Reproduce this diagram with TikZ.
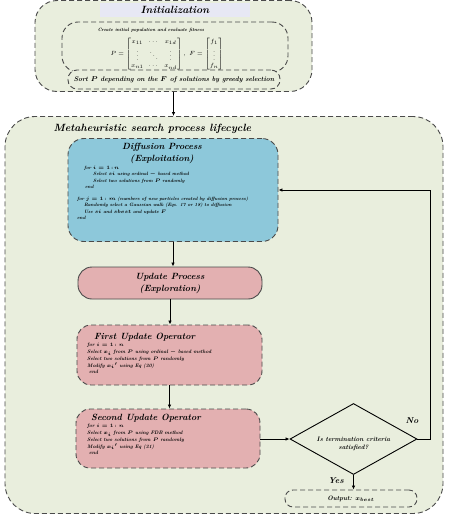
\documentclass[tikz,border=0pt]{standalone}
\usepackage{amsmath}
\usetikzlibrary{shapes.geometric,arrows.meta}

\definecolor{panelgreen}{HTML}{E9EEDD}
\definecolor{diffblue}{HTML}{8DC8DA}
\definecolor{updpink}{HTML}{E3B0B1}
\definecolor{titleband}{HTML}{E7E8F4}
\definecolor{edgegray}{HTML}{4A4A4A}

\newcommand{\bigbi}{\fontsize{10.5}{12}\selectfont\bfseries\itshape\boldmath}
\newcommand{\midbi}{\fontsize{9}{12}\selectfont\bfseries\itshape\boldmath}
\newcommand{\sortbi}{\fontsize{6.7}{7}\selectfont\bfseries\itshape\boldmath}
\newcommand{\smallbi}{\fontsize{4.7}{6}\selectfont\bfseries\itshape\boldmath}
\newcommand{\tinybi}{\fontsize{4.7}{6.2}\selectfont\bfseries\itshape\boldmath}
\newcommand{\codebi}{\fontsize{5}{6.8}\selectfont\bfseries\itshape\boldmath}
\newcommand{\askbi}{\fontsize{6.4}{8}\selectfont\bfseries\itshape\boldmath}
\newcommand{\labbi}{\fontsize{8.5}{10}\selectfont\bfseries\itshape\boldmath}
\newcommand{\matbi}{\fontsize{6.5}{7.6}\selectfont\setlength{\arraycolsep}{2.5pt}}

\tikzset{
  dashbox/.style={draw=edgegray, line width=0.9pt, dash pattern=on 5pt off 3pt},
  flow/.style={-{Latex[length=4pt,width=3.5pt]}, line width=0.9pt},
}

\begin{document}
\begin{tikzpicture}[x=1pt,y=-1pt]
\useasboundingbox (0,0) rectangle (474,515);

% Initialization panel
\node[dashbox, fill=panelgreen, rounded corners=22pt, minimum width=277pt, minimum height=91pt] (Init) at (173.5,46) {};
\node[fill=titleband, minimum width=150pt, minimum height=14pt, inner sep=0pt, font=\bigbi] (InitTitle) at (175,10) {Initialization};

% Create population box
\node[dashbox, rounded corners=16pt, minimum width=226pt, minimum height=50pt] (Create) at (175,47) {};
\node[font=\smallbi, inner sep=1pt] (CreateText) at (151,30) {Create initial population and evaluate fitness};
\node[font=\matbi, inner sep=0pt] (Matrix) at (167,54)
  {$P=\begin{bmatrix} x_{11} & \cdots & x_{1d}\\ \vdots & \ddots & \vdots\\ x_{n1} & \cdots & x_{nd}\end{bmatrix},\ F=\begin{bmatrix} f_1\\ \vdots\\ f_n\end{bmatrix}$};

% Sort box
\node[dashbox, fill=panelgreen, rounded corners=9pt, minimum width=212pt, minimum height=19pt, font=\sortbi] (Sort) at (174,79.5)
  {Sort $P$ depending on the $F$ of solutions by greedy selection};

% Lifecycle panel
\node[dashbox, fill=panelgreen, rounded corners=30pt, minimum width=438pt, minimum height=397pt] (Life) at (224,315) {};
\node[font=\bigbi, anchor=west] (LifeTitle) at (50,129) {Metaheuristic search process lifecycle};

% Diffusion process
\node[dashbox, fill=diffblue, rounded corners=16pt, minimum width=210pt, minimum height=103pt] (Diff) at (173,190) {};
\node[font=\midbi, align=center, inner sep=1pt] (DiffTitle) at (162,153) {Diffusion Process\\(Exploitation)};
\node[font=\tinybi, align=left, anchor=north west, inner sep=0pt] (DiffA) at (84,166)
  {for $i=1\!:\!n$\\
   \hspace{9pt}Select $si$ using ordinal $-$ based method\\
   \hspace{9pt}Select two solutions from $P$ randomly\\
   \hspace{1pt}end};
\node[font=\tinybi, align=left, anchor=north west, inner sep=0pt] (DiffB) at (77,197)
  {for $j=1\!:m$ (numbers of new particles created by diffusion process)\\
   \hspace{7pt}Randomly select a Gaussian walk (Eqs. 17 or 18) to diffusion\\
   \hspace{7pt}Use $si$ and $sbest$ and update $F$\\
   end};

% Update process
\node[draw=edgegray, line width=0.9pt, fill=updpink, rounded corners=14pt, minimum width=184pt, minimum height=32pt, font=\midbi, align=center] (Upd) at (170,283)
  {Update Process\\(Exploration)};

% First update operator
\node[dashbox, fill=updpink, rounded corners=14pt, minimum width=185pt, minimum height=60pt] (First) at (169.5,355) {};
\node[font=\midbi, anchor=west, inner sep=1pt] (FirstTitle) at (93,337) {First Update Operator};
\node[font=\codebi, align=left, anchor=north west, inner sep=0pt] (FirstCode) at (87,343)
  {for $i=1\!:n$\\
   Select $x_i$ from $P$ using ordinal $-$ based method\\
   Select two solutions from $P$ randomly\\
   Modify $x_i{}'$ using Eq (20)\\
   \hspace{2pt}end};

% Second update operator
\node[dashbox, fill=updpink, rounded corners=14pt, minimum width=184pt, minimum height=59pt] (Second) at (168,438.5) {};
\node[font=\midbi, anchor=west, inner sep=1pt] (SecondTitle) at (90,418) {Second Update Operator};
\node[font=\codebi, align=left, anchor=north west, inner sep=0pt] (SecondCode) at (87,424)
  {for $i=1\!:n$\\
   Select $x_i$ from $P$ using FDB method\\
   Select two solutions from $P$ randomly\\
   Modify $x_i{}'$ using Eq (21)\\
   \hspace{2pt}end};

% Termination check
\node[draw, diamond, line width=0.9pt, aspect=1.8, minimum width=127pt, minimum height=71pt, inner sep=0pt] (Check) at (353.5,439) {};
\node[font=\askbi, align=center] (CheckText) at (353.5,444) {Is termination criteria\\satisfied?};

% Output
\node[dashbox, rounded corners=8pt, minimum width=132pt, minimum height=17pt, font=\askbi] (Out) at (351,498.5) {Output: $x_{best}$};

% Loop corner
\coordinate (Loop) at (430,190);

% Arrows
\draw[flow] (Init.south) -- (Init.south |- Life.north);
\draw[flow] (Diff.south) -- (Diff.south |- Upd.north);
\draw[flow] (Upd.south) -- (Upd.south |- First.north);
\draw[flow] (First.south) -- (First.south |- Second.north);
\draw[flow] (Second.east |- Check.west) -- (Check.west);
\draw[flow] (Check.east) -| (Loop) -- (Diff.east);
\draw[flow] (Check.south) -- (Check.south |- Out.north);

% Labels
\node[font=\labbi] (No) at (412,421) {No};
\node[font=\labbi] (Yes) at (336,481) {Yes};

\end{tikzpicture}
\end{document}
